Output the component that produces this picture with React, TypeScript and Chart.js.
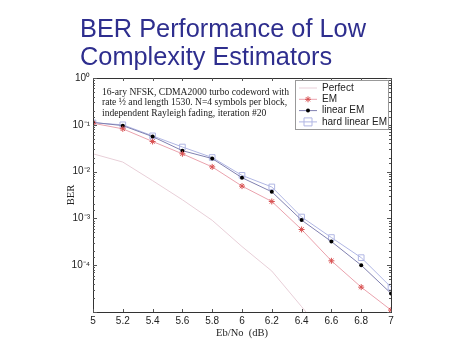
import React, { useEffect, useRef } from 'react';
import { Chart, registerables } from 'chart.js';

Chart.register(...registerables);

const ebno = [5, 5.2, 5.4, 5.6, 5.8, 6.0, 6.2, 6.4, 6.6, 6.8, 7.0];
const berPerfect = [0.024, 0.016, 0.0064, 0.0025, 0.00091, 0.00025, 7.5e-5, 1.3e-5, 2.2e-6, null, null];
const berEM = [0.108, 0.082, 0.044, 0.024, 0.0126, 0.0049, 0.0023, 0.00058, 0.000124, 3.4e-5, 1.1e-5];
const berLinearEM = [0.113, 0.096, 0.056, 0.028, 0.019, 0.0074, 0.0037, 0.00092, 0.00032, 1.0e-4, 2.5e-5];
const berHardLinearEM = [0.11, 0.1, 0.058, 0.0335, 0.02, 0.0083, 0.0047, 0.00107, 0.00039, 1.45e-4, 3.4e-5];

const seriesLabels = ['Perfect', 'EM', 'linear EM', 'hard linear EM'];
const titleLines = ['BER Performance of Low', 'Complexity Estimators'];
const noteLines = [
  '16-ary NFSK, CDMA2000 turbo codeword with',
  'rate \u00bd and length 1530. N=4 symbols per block,',
  'independent Rayleigh fading, iteration #20',
];
const xTitle = 'Eb/No  (dB)';
const yTitle = 'BER';

const SUP: Record<string, string> = {
  '0': '\u2070', '1': '\u00b9', '2': '\u00b2', '3': '\u00b3', '4': '\u2074',
  '5': '\u2075', '6': '\u2076', '7': '\u2077', '8': '\u2078', '9': '\u2079', '-': '\u207b',
};
const sup = (s: string) => s.split('').map((c) => SUP[c] || c).join('');

const SANS = '"Liberation Sans", Arial, sans-serif';
const SERIF = '"Liberation Serif", "Times New Roman", serif';

const colors = {
  perfect: '#e8cfd8',
  em: '#eaa2ad',
  emMarker: '#d85050',
  linear: '#8080b0',
  hard: '#b0b6e4',
};

function drawMarker(ctx: CanvasRenderingContext2D, style: string, x: number, y: number, r: number, stroke: string, fill: string) {
  ctx.save();
  ctx.strokeStyle = stroke;
  ctx.fillStyle = fill;
  ctx.lineWidth = 1;
  ctx.beginPath();
  if (style === 'circle') {
    ctx.arc(x, y, r, 0, Math.PI * 2);
    ctx.fill();
  } else if (style === 'rect') {
    ctx.rect(x - r, y - r, 2 * r, 2 * r);
    ctx.stroke();
  } else if (style === 'star') {
    for (let i = 0; i < 4; i++) {
      const a = (i * Math.PI) / 4;
      ctx.moveTo(x - r * Math.cos(a), y - r * Math.sin(a));
      ctx.lineTo(x + r * Math.cos(a), y + r * Math.sin(a));
    }
    ctx.stroke();
  }
  ctx.restore();
}

const decorPlugin = {
  id: 'decor',
  afterDraw(chart: any) {
    const { ctx, chartArea, scales } = chart;
    const { left, right, top, bottom } = chartArea;
    ctx.save();
    // frame
    ctx.strokeStyle = '#333';
    ctx.lineWidth = 1;
    ctx.strokeRect(Math.round(left) + 0.5, Math.round(top) + 0.5, Math.round(right - left), Math.round(bottom - top));

    // inward ticks
    ctx.strokeStyle = '#555';
    ctx.beginPath();
    scales.x.ticks.forEach((t: any) => {
      const px = Math.round(scales.x.getPixelForValue(t.value)) + 0.5;
      ctx.moveTo(px, bottom);
      ctx.lineTo(px, bottom - 3);
      ctx.moveTo(px, top);
      ctx.lineTo(px, top + 3);
    });
    scales.y.ticks.forEach((t: any) => {
      const exp = Math.log10(t.value);
      const major = Math.abs(exp - Math.round(exp)) < 1e-6;
      const len = major ? 4 : 2;
      const py = Math.round(scales.y.getPixelForValue(t.value)) + 0.5;
      ctx.moveTo(left, py);
      ctx.lineTo(left + len, py);
      ctx.moveTo(right, py);
      ctx.lineTo(right - len, py);
    });
    ctx.stroke();

    // title (horizontally fitted to the reference width)
    ctx.fillStyle = '#2e2e8e';
    ctx.font = `25px ${SANS}`;
    ctx.textAlign = 'left';
    ctx.textBaseline = 'alphabetic';
    const w0 = ctx.measureText(titleLines[0]).width;
    const sx = 286 / w0;
    ctx.save();
    ctx.translate(80, 0);
    ctx.scale(sx, 1);
    ctx.fillText(titleLines[0], 0, 37);
    ctx.fillText(titleLines[1], 0, 65);
    ctx.restore();

    // note
    ctx.fillStyle = '#222';
    ctx.font = `9.6px ${SERIF}`;
    ctx.textBaseline = 'middle';
    noteLines.forEach((l, i) => ctx.fillText(l, 102, 92 + i * 10.8));

    // axis titles
    ctx.font = `10.5px ${SERIF}`;
    ctx.textAlign = 'center';
    ctx.fillText(xTitle, (left + right) / 2, 333);
    ctx.save();
    ctx.translate(71, (top + bottom) / 2);
    ctx.rotate(-Math.PI / 2);
    ctx.fillText(yTitle, 0, 0);
    ctx.restore();

    // legend
    const lx = 295, ly = 80, lw = 93, lh = 49;
    ctx.fillStyle = '#fff';
    ctx.fillRect(lx, ly, lw, lh);
    ctx.strokeStyle = '#999';
    ctx.strokeRect(lx + 0.5, ly + 0.5, lw, lh);
    ctx.font = `10px ${SANS}`;
    ctx.textAlign = 'left';
    ctx.textBaseline = 'middle';
    chart.data.datasets.forEach((ds: any, i: number) => {
      const y = 88 + i * 11.3;
      ctx.strokeStyle = ds.borderColor;
      ctx.lineWidth = 1;
      ctx.beginPath();
      ctx.moveTo(299, y);
      ctx.lineTo(317, y);
      ctx.stroke();
      if (ds.pointRadius > 0) {
        drawMarker(ctx, ds.pointStyle, 308, y, ds.pointRadius, ds.pointBorderColor, ds.pointBackgroundColor);
      }
      ctx.fillStyle = '#222';
      ctx.fillText(ds.label, 322, y);
    });
    ctx.restore();
  },
};

export default function App() {
  const ref = useRef<HTMLCanvasElement>(null);
  useEffect(() => {
    if (!ref.current) return;
    const mk = (arr: (number | null)[]) => ebno.map((x, i) => ({ x, y: arr[i] }));
    const chart = new Chart(ref.current, {
      type: 'line',
      data: {
        datasets: [
          {
            label: seriesLabels[0], data: mk(berPerfect), borderColor: colors.perfect, borderWidth: 1,
            pointRadius: 0, pointStyle: 'circle', pointBorderColor: colors.perfect, pointBackgroundColor: colors.perfect,
          },
          {
            label: seriesLabels[1], data: mk(berEM), borderColor: colors.em, borderWidth: 1,
            pointRadius: 3, pointStyle: 'star', pointBorderColor: colors.emMarker, pointBackgroundColor: colors.emMarker, pointBorderWidth: 1,
          },
          {
            label: seriesLabels[2], data: mk(berLinearEM), borderColor: colors.linear, borderWidth: 1,
            pointRadius: 2, pointStyle: 'circle', pointBorderColor: '#000', pointBackgroundColor: '#000', pointBorderWidth: 0,
          },
          {
            label: seriesLabels[3], data: mk(berHardLinearEM), borderColor: colors.hard, borderWidth: 1,
            pointRadius: 4, pointStyle: 'rect', pointBorderColor: colors.hard, pointBackgroundColor: 'rgba(0,0,0,0)', pointBorderWidth: 1,
          },
        ] as any,
      },
      options: {
        responsive: false,
        animation: false,
        layout: { padding: { left: 0, top: 78, right: 83, bottom: 0 } },
        plugins: { legend: { display: false }, title: { display: false }, tooltip: { enabled: false } },
        elements: { line: { tension: 0 } },
        scales: {
          x: {
            type: 'linear', min: 5, max: 7,
            grid: { display: false, drawTicks: false },
            border: { display: false },
            ticks: {
              stepSize: 0.2, padding: 3, color: '#222', font: { family: SANS, size: 10 },
              callback: (v: any) => String(Number(Number(v).toFixed(1))),
            },
            afterFit: (s: any) => { s.height = 43; },
          },
          y: {
            type: 'logarithmic', min: 1e-5, max: 1,
            grid: { display: false, drawTicks: false },
            border: { display: false },
            ticks: {
              autoSkip: false, padding: 3, color: '#222', font: { family: SANS, size: 10 },
              callback: (v: any) => {
                const e = Math.log10(Number(v));
                if (Math.abs(e - Math.round(e)) > 1e-6) return '';
                const r = Math.round(e);
                if (r === -5) return '';
                return '10' + sup(String(r));
              },
            },
            afterFit: (s: any) => { s.width = 93; },
          },
        },
      } as any,
      plugins: [decorPlugin],
    });
    return () => chart.destroy();
  }, []);
  return (
    <div style={{ position: 'fixed', left: 0, top: 0, width: 474, height: 355, background: '#fff' }}>
      <canvas ref={ref} width={474} height={355} style={{ display: 'block' }} />
    </div>
  );
}
